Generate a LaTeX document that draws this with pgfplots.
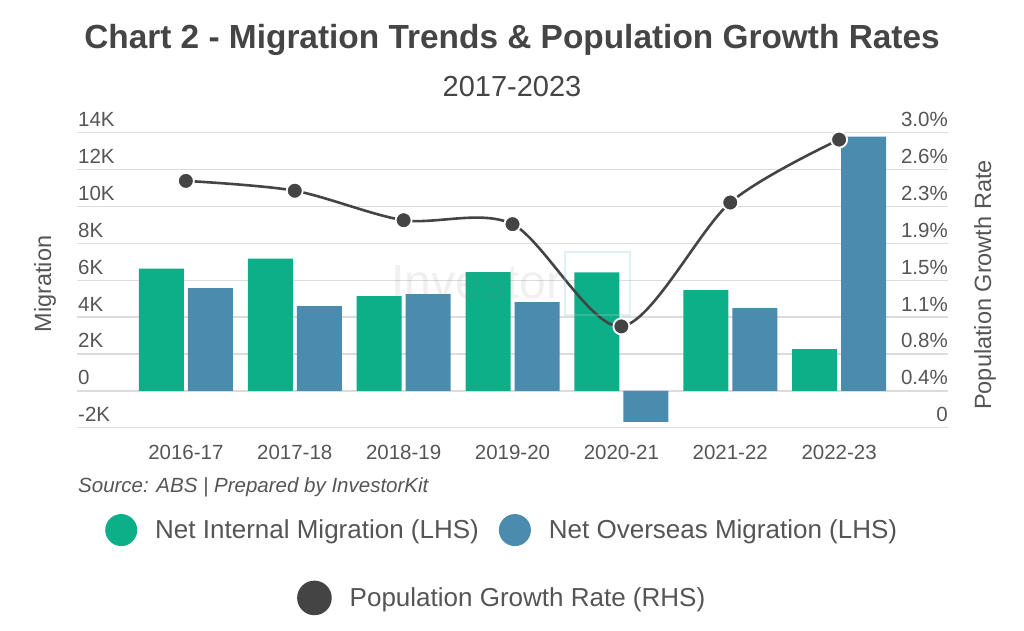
\documentclass[border=0pt]{standalone}
\usepackage{fontspec}
\setmainfont{Liberation Sans}
\usepackage{pgfplots}
\pgfplotsset{compat=1.18}
\definecolor{migInt}{HTML}{0CAF87}
\definecolor{migOvs}{HTML}{4A8BAE}
\definecolor{rateLine}{HTML}{444444}
\definecolor{txt}{HTML}{555555}
\definecolor{ttl}{HTML}{454545}
\definecolor{gridc}{HTML}{DCDCDC}

\newcommand{\tickfont}{\fontsize{20.5}{24}\selectfont}
\newcommand{\legfont}{\fontsize{26}{30}\selectfont}

\begin{document}
\begin{tikzpicture}
% migration bars (left axis)
\begin{axis}[
  at={(0,0)}, anchor=south west,
  scale only axis, width=871pt, height=295pt,
  xmin=-1, xmax=7, ymin=-2000, ymax=14000,
  enlargelimits=false,
  scaled y ticks=false,
  ybar=4pt, bar width=45pt,
  axis line style={draw=none},
  major tick length=0pt,
  xtick={0,1,2,3,4,5,6},
  xticklabels={2016-17,2017-18,2018-19,2019-20,2020-21,2021-22,2022-23},
  ytick={-2000,0,2000,4000,6000,8000,10000,12000,14000},
  yticklabels={-2K,0,2K,4K,6K,8K,10K,12K,14K},
  ymajorgrids, grid style={gridc, line width=1.4pt},
  xticklabel style={font=\tickfont, text=txt, anchor=base, yshift=-31.5pt},
  yticklabel style={font=\tickfont, text=txt, anchor=base west, inner sep=0pt, xshift=1pt, yshift=6pt},
  legend style={at={(0.487,-0.347)}, anchor=center, draw=none, fill=none,
    font=\legfont, text=txt, nodes={inner sep=0pt},
    /tikz/every odd column/.append style={column sep=18pt},
    /tikz/every even column/.append style={column sep=20pt}},
  legend columns=2,
  legend cell align=left,
]
\addplot[fill=migInt, draw=none,
  legend image code/.code={\fill[migInt] (0pt,0pt) circle (16pt);}]
  coordinates {(0,6630) (1,7170) (2,5130) (3,6440) (4,6420) (5,5460) (6,2260)};
\addlegendentry{Net Internal Migration (LHS)}
\addplot[fill=migOvs, draw=none,
  legend image code/.code={\fill[migOvs] (0pt,0pt) circle (16pt);}]
  coordinates {(0,5570) (1,4590) (2,5240) (3,4810) (4,-1680) (5,4480) (6,13790)};
\addlegendentry{Net Overseas Migration (LHS)}
\end{axis}

% population growth rate (right axis)
\begin{axis}[
  at={(0,0)}, anchor=south west,
  scale only axis, width=871pt, height=295pt,
  xmin=-1, xmax=7, ymin=0, ymax=3,
  enlargelimits=false,
  axis x line=none, axis y line*=right,
  y axis line style={draw=none},
  major tick length=0pt,
  ytick={0,0.375,0.75,1.125,1.5,1.875,2.25,2.625,3},
  yticklabels={0,0.4\%,0.8\%,1.1\%,1.5\%,1.9\%,2.3\%,2.6\%,3.0\%},
  yticklabel style={font=\tickfont, text=txt, anchor=base east, inner sep=0pt, yshift=6pt},
  legend style={at={(0.487,-0.577)}, anchor=center, draw=none, fill=none,
    font=\legfont, text=txt, nodes={inner sep=0pt},
    /tikz/every odd column/.append style={column sep=18pt}},
  legend cell align=left,
]
\addplot[rateLine, line width=2.6pt, smooth, tension=0.5,
  mark=*, mark size=8pt,
  mark options={fill=rateLine, draw=white, line width=1.8pt},
  legend image code/.code={\fill[rateLine] (0pt,0pt) circle (16pt);}]
  coordinates {(0,2.51) (1,2.41) (2,2.11) (3,2.07) (4,1.03) (5,2.29) (6,2.93)};
\addlegendentry{Population Growth Rate (RHS)}
\end{axis}

% watermark
\node[text=gray, opacity=0.12, font=\fontsize{48}{52}\selectfont] at (400pt,145.7pt) {Investor};
\draw[teal!40, opacity=0.3, line width=2pt] (488pt,112.7pt) rectangle (553pt,176pt);

% titles and axis names
\node[text=ttl, font=\fontsize{33.4}{38}\selectfont\bfseries] at (435pt,387.7pt) {Chart 2 - Migration Trends \& Population Growth Rates};
\node[text=ttl, font=\fontsize{29}{33}\selectfont] at (435pt,340.7pt) {2017-2023};
\node[text=txt, rotate=90, font=\fontsize{23.5}{27}\selectfont] at (-32pt,143.7pt) {Migration};
\node[text=txt, rotate=90, font=\fontsize{23.5}{27}\selectfont] at (908pt,142.7pt) {Population Growth Rate};
\node[text=txt, anchor=west, inner sep=0pt, font=\fontsize{20.5}{24}\selectfont\itshape] at (1pt,-59.3pt) {Source: ABS | Prepared by InvestorKit};

\pgfresetboundingbox
\useasboundingbox (-77pt,-202.3pt) rectangle (947pt,427.7pt);
\end{tikzpicture}
\end{document}
